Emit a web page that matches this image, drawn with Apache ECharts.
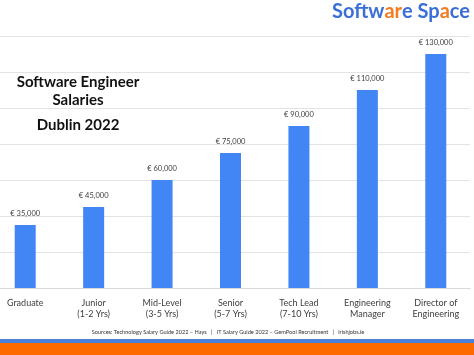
<!DOCTYPE html>
<html><head><meta charset="utf-8">
<script src="https://cdn.jsdelivr.net/npm/echarts@6/dist/echarts.min.js"></script>
<style>html,body{margin:0;padding:0;background:#fff;overflow:hidden;width:474px;height:355px}#c{position:absolute;left:-9px;top:0;width:483px;height:355px}</style>
</head><body><div id="c"></div>
<script>
const categories = ["Graduate", "Junior\n(1-2 Yrs)", "Mid-Level\n(3-5 Yrs)", "Senior\n(5-7 Yrs)", "Tech Lead\n(7-10 Yrs)", "Engineering\nManager", "Director of\nEngineering"];
const salaries = [35000, 45000, 60000, 75000, 90000, 110000, 130000];
const yTicks = [0, 20000, 40000, 60000, 80000, 100000, 120000, 140000];

const FONT = "Lato, 'Open Sans', sans-serif";
const OX = 9; // canvas is shifted 9px left of the page
const chart = echarts.init(document.getElementById('c'));
chart.setOption({
  animation: false,
  backgroundColor: '#ffffff',
  grid: { left: 0, right: 4, top: 36, bottom: 67, containLabel: false },
  xAxis: {
    type: 'category', data: categories,
    axisLine: { show: true, lineStyle: { color: '#d9d9d9', width: 1 } },
    axisTick: { show: false },
    axisLabel: { color: '#404040', fontSize: 9, fontFamily: FONT, lineHeight: 11.5, margin: 9, interval: 0 }
  },
  yAxis: {
    type: 'value', min: yTicks[0], max: yTicks[yTicks.length - 1], interval: 20000,
    axisLabel: { show: false }, axisLine: { show: false }, axisTick: { show: false },
    splitLine: { lineStyle: { color: '#e3e3e3', width: 1 } }
  },
  series: [{
    type: 'bar', data: salaries, barWidth: 21,
    itemStyle: { color: '#4285f4' },
    label: {
      show: true, position: 'top', distance: 7,
      color: '#404040', fontSize: 7.5, fontFamily: FONT,
      formatter: p => '€ ' + p.value.toLocaleString('en-US')
    }
  }],
  graphic: [
    { type: 'text', x: 78 + OX, y: 82, style: { text: 'Software Engineer', font: 'bold 15px ' + FONT, fill: '#111', align: 'center', verticalAlign: 'middle' } },
    { type: 'text', x: 78 + OX, y: 100, style: { text: 'Salaries', font: 'bold 15px ' + FONT, fill: '#111', align: 'center', verticalAlign: 'middle' } },
    { type: 'text', x: 78 + OX, y: 125, style: { text: 'Dublin 2022', font: 'bold 15px ' + FONT, fill: '#111', align: 'center', verticalAlign: 'middle' } },
    { type: 'text', x: 470 + OX, y: 12, style: {
        text: '{b|Softw}{o|ar}{b|e Sp}{o|a}{b|ce}', align: 'right', verticalAlign: 'middle',
        rich: {
          b: { font: 'bold 20px ' + FONT, fill: '#3a6fd8' },
          o: { font: 'bold 20px ' + FONT, fill: '#f47b20' }
        }
    } },
    { type: 'text', x: 228 + OX, y: 332, style: {
        text: 'Sources: Technology Salary Guide 2022 – Hays   |   IT Salary Guide 2022 – GemPool Recruitment   |   irishjobs.ie',
        font: '5.6px ' + FONT, fill: '#333', align: 'center', verticalAlign: 'middle' } },
    { type: 'rect', shape: { x: 0, y: 339, width: 483, height: 4 }, style: { fill: '#4a80d8' } },
    { type: 'rect', shape: { x: 0, y: 343, width: 483, height: 12 }, style: { fill: '#ff6a00' } }
  ]
});
</script></body></html>
